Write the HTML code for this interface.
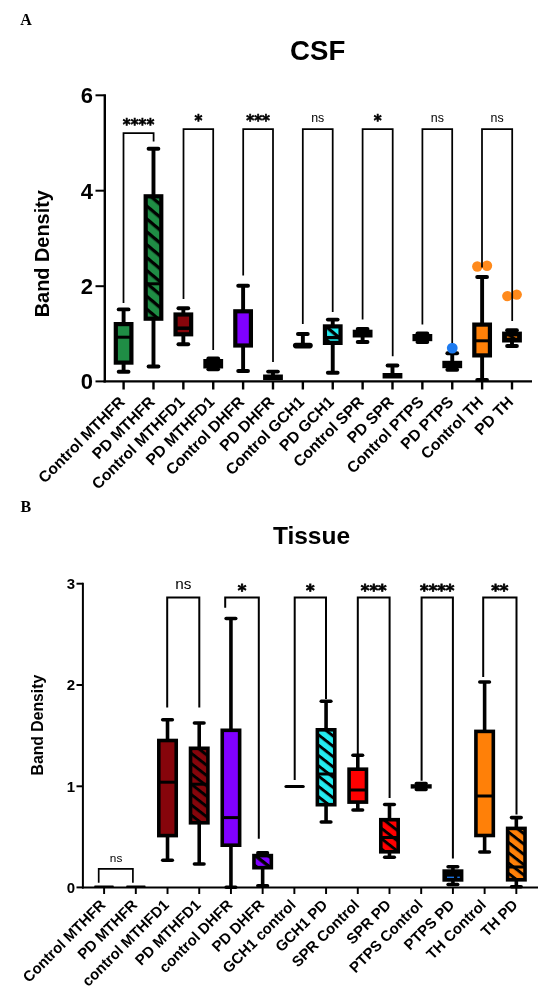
<!DOCTYPE html>
<html lang="en"><head><meta charset="utf-8"><title>Band Density - CSF and Tissue</title>
<style>html,body{margin:0;padding:0;background:#fff}svg{display:block}</style></head><body>
<svg width="550" height="1002" viewBox="0 0 550 1002">
<rect width="550" height="1002" fill="#fff"/>
<text x="20.3" y="24.7" font-family='"Liberation Serif", "Times New Roman", serif' font-size="16" font-weight="bold" text-anchor="start" >A</text>
<text x="317.7" y="60.3" font-family='"Liberation Sans", Arial, Helvetica, sans-serif' font-size="27.6" font-weight="bold" text-anchor="middle" >CSF</text>
<line x1="104.8" y1="94.3" x2="104.8" y2="382.4" stroke="#000" stroke-width="2.4"/>
<line x1="103.6" y1="381.4" x2="532" y2="381.4" stroke="#000" stroke-width="2.4"/>
<line x1="95.5" y1="95.3" x2="104.5" y2="95.3" stroke="#000" stroke-width="2.0"/>
<text x="93.1" y="103.1" font-family='"Liberation Sans", Arial, Helvetica, sans-serif' font-size="22" font-weight="bold" text-anchor="end" >6</text>
<line x1="95.5" y1="190.7" x2="104.5" y2="190.7" stroke="#000" stroke-width="2.0"/>
<text x="93.1" y="198.5" font-family='"Liberation Sans", Arial, Helvetica, sans-serif' font-size="22" font-weight="bold" text-anchor="end" >4</text>
<line x1="95.5" y1="286.2" x2="104.5" y2="286.2" stroke="#000" stroke-width="2.0"/>
<text x="93.1" y="294" font-family='"Liberation Sans", Arial, Helvetica, sans-serif' font-size="22" font-weight="bold" text-anchor="end" >2</text>
<line x1="95.5" y1="381.4" x2="104.5" y2="381.4" stroke="#000" stroke-width="2.0"/>
<text x="93.1" y="389.2" font-family='"Liberation Sans", Arial, Helvetica, sans-serif' font-size="22" font-weight="bold" text-anchor="end" >0</text>
<text transform="translate(48.5,253.7) rotate(-90)" font-family='"Liberation Sans", Arial, Helvetica, sans-serif' font-size="19.9" font-weight="bold" text-anchor="middle">Band Density</text>
<line x1="123.6" y1="381.4" x2="123.6" y2="389.5" stroke="#000" stroke-width="2.4"/>
<line x1="153.48" y1="381.4" x2="153.48" y2="389.5" stroke="#000" stroke-width="2.4"/>
<line x1="183.35" y1="381.4" x2="183.35" y2="389.5" stroke="#000" stroke-width="2.4"/>
<line x1="213.23" y1="381.4" x2="213.23" y2="389.5" stroke="#000" stroke-width="2.4"/>
<line x1="243.11" y1="381.4" x2="243.11" y2="389.5" stroke="#000" stroke-width="2.4"/>
<line x1="272.99" y1="381.4" x2="272.99" y2="389.5" stroke="#000" stroke-width="2.4"/>
<line x1="302.86" y1="381.4" x2="302.86" y2="389.5" stroke="#000" stroke-width="2.4"/>
<line x1="332.74" y1="381.4" x2="332.74" y2="389.5" stroke="#000" stroke-width="2.4"/>
<line x1="362.62" y1="381.4" x2="362.62" y2="389.5" stroke="#000" stroke-width="2.4"/>
<line x1="392.49" y1="381.4" x2="392.49" y2="389.5" stroke="#000" stroke-width="2.4"/>
<line x1="422.37" y1="381.4" x2="422.37" y2="389.5" stroke="#000" stroke-width="2.4"/>
<line x1="452.25" y1="381.4" x2="452.25" y2="389.5" stroke="#000" stroke-width="2.4"/>
<line x1="482.12" y1="381.4" x2="482.12" y2="389.5" stroke="#000" stroke-width="2.4"/>
<line x1="512" y1="381.4" x2="512" y2="389.5" stroke="#000" stroke-width="2.4"/>
<text transform="translate(125.8,402.9) rotate(-45)" font-family='"Liberation Sans", Arial, Helvetica, sans-serif' font-size="15.65" font-weight="bold" text-anchor="end">Control MTHFR</text>
<text transform="translate(155.68,402.9) rotate(-45)" font-family='"Liberation Sans", Arial, Helvetica, sans-serif' font-size="15.65" font-weight="bold" text-anchor="end">PD MTHFR</text>
<text transform="translate(185.55,402.9) rotate(-45)" font-family='"Liberation Sans", Arial, Helvetica, sans-serif' font-size="15.65" font-weight="bold" text-anchor="end">Control MTHFD1</text>
<text transform="translate(215.43,402.9) rotate(-45)" font-family='"Liberation Sans", Arial, Helvetica, sans-serif' font-size="15.65" font-weight="bold" text-anchor="end">PD MTHFD1</text>
<text transform="translate(245.31,402.9) rotate(-45)" font-family='"Liberation Sans", Arial, Helvetica, sans-serif' font-size="15.65" font-weight="bold" text-anchor="end">Control DHFR</text>
<text transform="translate(275.19,402.9) rotate(-45)" font-family='"Liberation Sans", Arial, Helvetica, sans-serif' font-size="15.65" font-weight="bold" text-anchor="end">PD DHFR</text>
<text transform="translate(305.06,402.9) rotate(-45)" font-family='"Liberation Sans", Arial, Helvetica, sans-serif' font-size="15.65" font-weight="bold" text-anchor="end">Control GCH1</text>
<text transform="translate(334.94,402.9) rotate(-45)" font-family='"Liberation Sans", Arial, Helvetica, sans-serif' font-size="15.65" font-weight="bold" text-anchor="end">PD GCH1</text>
<text transform="translate(364.82,402.9) rotate(-45)" font-family='"Liberation Sans", Arial, Helvetica, sans-serif' font-size="15.65" font-weight="bold" text-anchor="end">Control SPR</text>
<text transform="translate(394.69,402.9) rotate(-45)" font-family='"Liberation Sans", Arial, Helvetica, sans-serif' font-size="15.65" font-weight="bold" text-anchor="end">PD SPR</text>
<text transform="translate(424.57,402.9) rotate(-45)" font-family='"Liberation Sans", Arial, Helvetica, sans-serif' font-size="15.65" font-weight="bold" text-anchor="end">Control PTPS</text>
<text transform="translate(454.45,402.9) rotate(-45)" font-family='"Liberation Sans", Arial, Helvetica, sans-serif' font-size="15.65" font-weight="bold" text-anchor="end">PD PTPS</text>
<text transform="translate(484.32,402.9) rotate(-45)" font-family='"Liberation Sans", Arial, Helvetica, sans-serif' font-size="15.65" font-weight="bold" text-anchor="end">Control TH</text>
<text transform="translate(514.2,402.9) rotate(-45)" font-family='"Liberation Sans", Arial, Helvetica, sans-serif' font-size="15.65" font-weight="bold" text-anchor="end">PD TH</text>
<line x1="123.6" y1="309.4" x2="123.6" y2="323" stroke="#000" stroke-width="3.9"/>
<line x1="118.7" y1="309.4" x2="128.5" y2="309.4" stroke="#000" stroke-width="3.9" stroke-linecap="round"/>
<line x1="123.6" y1="363.7" x2="123.6" y2="371.8" stroke="#000" stroke-width="3.9"/>
<line x1="118.7" y1="371.8" x2="128.5" y2="371.8" stroke="#000" stroke-width="3.9" stroke-linecap="round"/>
<rect x="115.8" y="324.1" width="15.6" height="38.5" fill="#1f8d45" stroke="#000" stroke-width="4.2" stroke-linejoin="miter"/>
<line x1="115.8" y1="337.2" x2="131.4" y2="337.2" stroke="#000" stroke-width="3"/>
<line x1="153.48" y1="148.7" x2="153.48" y2="195.2" stroke="#000" stroke-width="3.9"/>
<line x1="148.58" y1="148.7" x2="158.38" y2="148.7" stroke="#000" stroke-width="3.9" stroke-linecap="round"/>
<line x1="153.48" y1="319.8" x2="153.48" y2="366.5" stroke="#000" stroke-width="3.9"/>
<line x1="148.58" y1="366.5" x2="158.38" y2="366.5" stroke="#000" stroke-width="3.9" stroke-linecap="round"/>
<defs><pattern id="h1" patternUnits="userSpaceOnUse" width="9.88" height="9.88" patternTransform="translate(0,3.36) rotate(40)"><rect x="0" y="0" width="9.88" height="9.88" fill="#1f8d45"/><rect x="0" y="0" width="9.88" height="3.3" fill="#000"/></pattern></defs>
<rect x="145.68" y="196.3" width="15.6" height="122.4" fill="url(#h1)" stroke="#000" stroke-width="4.2" stroke-linejoin="miter"/>
<line x1="145.68" y1="283.8" x2="161.28" y2="283.8" stroke="#000" stroke-width="3"/>
<line x1="183.35" y1="308.2" x2="183.35" y2="313.4" stroke="#000" stroke-width="3.9"/>
<line x1="178.45" y1="308.2" x2="188.25" y2="308.2" stroke="#000" stroke-width="3.9" stroke-linecap="round"/>
<line x1="183.35" y1="335.4" x2="183.35" y2="344.2" stroke="#000" stroke-width="3.9"/>
<line x1="178.45" y1="344.2" x2="188.25" y2="344.2" stroke="#000" stroke-width="3.9" stroke-linecap="round"/>
<rect x="175.55" y="314.5" width="15.6" height="19.8" fill="#86050b" stroke="#000" stroke-width="4.2" stroke-linejoin="miter"/>
<line x1="175.55" y1="328.2" x2="191.15" y2="328.2" stroke="#000" stroke-width="3.5"/>
<line x1="213.23" y1="358.5" x2="213.23" y2="360" stroke="#000" stroke-width="3.9"/>
<line x1="208.33" y1="358.5" x2="218.13" y2="358.5" stroke="#000" stroke-width="3.9" stroke-linecap="round"/>
<line x1="213.23" y1="367.5" x2="213.23" y2="369.2" stroke="#000" stroke-width="3.9"/>
<line x1="208.33" y1="369.2" x2="218.13" y2="369.2" stroke="#000" stroke-width="3.9" stroke-linecap="round"/>
<rect x="205.43" y="361.1" width="15.6" height="5.3" fill="#000" stroke="#000" stroke-width="4.2" stroke-linejoin="miter"/>
<line x1="243.11" y1="285.8" x2="243.11" y2="310.2" stroke="#000" stroke-width="3.9"/>
<line x1="238.21" y1="285.8" x2="248.01" y2="285.8" stroke="#000" stroke-width="3.9" stroke-linecap="round"/>
<line x1="243.11" y1="346.6" x2="243.11" y2="371" stroke="#000" stroke-width="3.9"/>
<line x1="238.21" y1="371" x2="248.01" y2="371" stroke="#000" stroke-width="3.9" stroke-linecap="round"/>
<rect x="235.31" y="311.3" width="15.6" height="34.2" fill="#8000ff" stroke="#000" stroke-width="4.2" stroke-linejoin="miter"/>
<line x1="272.99" y1="371.6" x2="272.99" y2="375.5" stroke="#000" stroke-width="3.9"/>
<line x1="268.09" y1="371.6" x2="277.88" y2="371.6" stroke="#000" stroke-width="3.9" stroke-linecap="round"/>
<rect x="265.19" y="376.6" width="15.6" height="1.3" fill="#000" stroke="#000" stroke-width="4.2" stroke-linejoin="miter"/>
<line x1="302.86" y1="334" x2="302.86" y2="346" stroke="#000" stroke-width="3.9"/>
<line x1="297.96" y1="334" x2="307.76" y2="334" stroke="#000" stroke-width="3.9" stroke-linecap="round"/>
<rect x="304.96" y="345" width="-4.2" height="0.01" fill="#000" stroke="#000" stroke-width="4.2" stroke-linejoin="miter"/>
<line x1="295.76" y1="345.6" x2="309.96" y2="345.6" stroke="#000" stroke-width="5.6" stroke-linecap="round"/>
<line x1="332.74" y1="319.6" x2="332.74" y2="325.3" stroke="#000" stroke-width="3.9"/>
<line x1="327.84" y1="319.6" x2="337.64" y2="319.6" stroke="#000" stroke-width="3.9" stroke-linecap="round"/>
<line x1="332.74" y1="344" x2="332.74" y2="372.7" stroke="#000" stroke-width="3.9"/>
<line x1="327.84" y1="372.7" x2="337.64" y2="372.7" stroke="#000" stroke-width="3.9" stroke-linecap="round"/>
<defs><pattern id="h2" patternUnits="userSpaceOnUse" width="9.88" height="9.88" patternTransform="translate(0,12.21) rotate(40)"><rect x="0" y="0" width="9.88" height="9.88" fill="#24ecf0"/><rect x="0" y="0" width="9.88" height="3.3" fill="#000"/></pattern></defs>
<rect x="324.94" y="326.4" width="15.6" height="16.5" fill="url(#h2)" stroke="#000" stroke-width="4.2" stroke-linejoin="miter"/>
<line x1="324.94" y1="337.6" x2="340.54" y2="337.6" stroke="#000" stroke-width="3.3"/>
<line x1="362.62" y1="328.9" x2="362.62" y2="330.7" stroke="#000" stroke-width="3.9"/>
<line x1="357.72" y1="328.9" x2="367.52" y2="328.9" stroke="#000" stroke-width="3.9" stroke-linecap="round"/>
<line x1="362.62" y1="336.5" x2="362.62" y2="342" stroke="#000" stroke-width="3.9"/>
<line x1="357.72" y1="342" x2="367.52" y2="342" stroke="#000" stroke-width="3.9" stroke-linecap="round"/>
<rect x="354.82" y="331.8" width="15.6" height="3.6" fill="#000" stroke="#000" stroke-width="4.2" stroke-linejoin="miter"/>
<line x1="392.49" y1="365.5" x2="392.49" y2="374" stroke="#000" stroke-width="3.9"/>
<line x1="387.59" y1="365.5" x2="397.39" y2="365.5" stroke="#000" stroke-width="3.9" stroke-linecap="round"/>
<rect x="384.69" y="375.1" width="15.6" height="1.3" fill="#000" stroke="#000" stroke-width="4.2" stroke-linejoin="miter"/>
<line x1="422.37" y1="333.4" x2="422.37" y2="335" stroke="#000" stroke-width="3.9"/>
<line x1="417.47" y1="333.4" x2="427.27" y2="333.4" stroke="#000" stroke-width="3.9" stroke-linecap="round"/>
<line x1="422.37" y1="340.2" x2="422.37" y2="342.1" stroke="#000" stroke-width="3.9"/>
<line x1="417.47" y1="342.1" x2="427.27" y2="342.1" stroke="#000" stroke-width="3.9" stroke-linecap="round"/>
<rect x="414.57" y="336.1" width="15.6" height="3" fill="#000" stroke="#000" stroke-width="4.2" stroke-linejoin="miter"/>
<line x1="452.25" y1="353.3" x2="452.25" y2="361.8" stroke="#000" stroke-width="3.9"/>
<line x1="447.35" y1="353.3" x2="457.15" y2="353.3" stroke="#000" stroke-width="3.9" stroke-linecap="round"/>
<line x1="452.25" y1="367.2" x2="452.25" y2="369.7" stroke="#000" stroke-width="3.9"/>
<line x1="447.35" y1="369.7" x2="457.15" y2="369.7" stroke="#000" stroke-width="3.9" stroke-linecap="round"/>
<rect x="444.45" y="362.9" width="15.6" height="3.2" fill="#000" stroke="#000" stroke-width="4.2" stroke-linejoin="miter"/>
<circle cx="452.25" cy="348.1" r="5.4" fill="#1e7bf0"/>
<line x1="482.12" y1="277" x2="482.12" y2="323.5" stroke="#000" stroke-width="3.9"/>
<line x1="477.22" y1="277" x2="487.02" y2="277" stroke="#000" stroke-width="3.9" stroke-linecap="round"/>
<line x1="482.12" y1="356.5" x2="482.12" y2="380" stroke="#000" stroke-width="3.9"/>
<line x1="477.22" y1="380" x2="487.02" y2="380" stroke="#000" stroke-width="3.9" stroke-linecap="round"/>
<rect x="474.32" y="324.6" width="15.6" height="30.8" fill="#ff8008" stroke="#000" stroke-width="4.2" stroke-linejoin="miter"/>
<line x1="474.32" y1="340.8" x2="489.92" y2="340.8" stroke="#000" stroke-width="3"/>
<circle cx="477.3" cy="266.5" r="5.2" fill="#ff8a1c"/><circle cx="487" cy="265.7" r="5.2" fill="#ff8a1c"/>
<line x1="512" y1="330.2" x2="512" y2="332.6" stroke="#000" stroke-width="3.9"/>
<line x1="507.1" y1="330.2" x2="516.9" y2="330.2" stroke="#000" stroke-width="3.9" stroke-linecap="round"/>
<line x1="512" y1="341.5" x2="512" y2="346" stroke="#000" stroke-width="3.9"/>
<line x1="507.1" y1="346" x2="516.9" y2="346" stroke="#000" stroke-width="3.9" stroke-linecap="round"/>
<defs><pattern id="h3" patternUnits="userSpaceOnUse" width="9.88" height="9.88" patternTransform="translate(0,8.51) rotate(40)"><rect x="0" y="0" width="9.88" height="9.88" fill="#ff8008"/><rect x="0" y="0" width="9.88" height="3.3" fill="#000"/></pattern></defs>
<rect x="504.5" y="334" width="15" height="6.1" fill="url(#h3)" stroke="#000" stroke-width="4.8" stroke-linejoin="miter"/>
<circle cx="507.3" cy="296.1" r="5.2" fill="#ff8a1c"/><circle cx="516.7" cy="294.6" r="5.2" fill="#ff8a1c"/>
<polyline points="123.5,303 123.5,133.2 153.6,133.2 153.6,141.5" fill="none" stroke="#000" stroke-width="1.75"/>
<text x="138.55" y="130.3" font-family='"DejaVu Sans", "Liberation Sans", sans-serif' font-size="15" font-weight="bold" text-anchor="middle" stroke="#000" stroke-width="0.6">****</text>
<polyline points="183.5,299 183.5,129.1 213.2,129.1 213.2,350" fill="none" stroke="#000" stroke-width="1.75"/>
<text x="198.35" y="126.2" font-family='"DejaVu Sans", "Liberation Sans", sans-serif' font-size="15" font-weight="bold" text-anchor="middle" stroke="#000" stroke-width="0.6">*</text>
<polyline points="243.2,275.6 243.2,129.1 273,129.1 273,362" fill="none" stroke="#000" stroke-width="1.75"/>
<text x="258.1" y="126.2" font-family='"DejaVu Sans", "Liberation Sans", sans-serif' font-size="15" font-weight="bold" text-anchor="middle" stroke="#000" stroke-width="0.6">***</text>
<polyline points="302.8,324 302.8,129.1 332.7,129.1 332.7,312" fill="none" stroke="#000" stroke-width="1.75"/>
<text x="317.75" y="121.8" font-family='"Liberation Sans", Arial, Helvetica, sans-serif' font-size="12.4" font-weight="normal" text-anchor="middle" >ns</text>
<polyline points="362.6,319.6 362.6,129.1 392.7,129.1 392.7,356.3" fill="none" stroke="#000" stroke-width="1.75"/>
<text x="377.65" y="126.2" font-family='"DejaVu Sans", "Liberation Sans", sans-serif' font-size="15" font-weight="bold" text-anchor="middle" stroke="#000" stroke-width="0.6">*</text>
<polyline points="422.4,324.5 422.4,129.1 452.2,129.1 452.2,343" fill="none" stroke="#000" stroke-width="1.75"/>
<text x="437.3" y="121.8" font-family='"Liberation Sans", Arial, Helvetica, sans-serif' font-size="12.4" font-weight="normal" text-anchor="middle" >ns</text>
<polyline points="482,267.4 482,129.1 512.2,129.1 512.2,321" fill="none" stroke="#000" stroke-width="1.75"/>
<text x="497.1" y="121.8" font-family='"Liberation Sans", Arial, Helvetica, sans-serif' font-size="12.4" font-weight="normal" text-anchor="middle" >ns</text>
<text x="20.5" y="511.8" font-family='"Liberation Serif", "Times New Roman", serif' font-size="16" font-weight="bold" text-anchor="start" >B</text>
<text x="311.5" y="544.3" font-family='"Liberation Sans", Arial, Helvetica, sans-serif' font-size="24.5" font-weight="bold" text-anchor="middle" >Tissue</text>
<line x1="82.9" y1="582.8" x2="82.9" y2="888.375" stroke="#000" stroke-width="2"/>
<line x1="81.92500000000001" y1="887.4" x2="538" y2="887.4" stroke="#000" stroke-width="1.95"/>
<line x1="76.5" y1="583.7" x2="82.9" y2="583.7" stroke="#000" stroke-width="1.95"/>
<text x="75.2" y="588.9" font-family='"Liberation Sans", Arial, Helvetica, sans-serif' font-size="15" font-weight="bold" text-anchor="end" >3</text>
<line x1="76.5" y1="685" x2="82.9" y2="685" stroke="#000" stroke-width="1.95"/>
<text x="75.2" y="690.2" font-family='"Liberation Sans", Arial, Helvetica, sans-serif' font-size="15" font-weight="bold" text-anchor="end" >2</text>
<line x1="76.5" y1="786.3" x2="82.9" y2="786.3" stroke="#000" stroke-width="1.95"/>
<text x="75.2" y="791.5" font-family='"Liberation Sans", Arial, Helvetica, sans-serif' font-size="15" font-weight="bold" text-anchor="end" >1</text>
<line x1="76.5" y1="887.4" x2="82.9" y2="887.4" stroke="#000" stroke-width="1.95"/>
<text x="75.2" y="892.6" font-family='"Liberation Sans", Arial, Helvetica, sans-serif' font-size="15" font-weight="bold" text-anchor="end" >0</text>
<text transform="translate(42.6,725.1) rotate(-90)" font-family='"Liberation Sans", Arial, Helvetica, sans-serif' font-size="15.75" font-weight="bold" text-anchor="middle">Band Density</text>
<line x1="104.1" y1="887.4" x2="104.1" y2="894" stroke="#000" stroke-width="1.95"/>
<line x1="135.81" y1="887.4" x2="135.81" y2="894" stroke="#000" stroke-width="1.95"/>
<line x1="167.52" y1="887.4" x2="167.52" y2="894" stroke="#000" stroke-width="1.95"/>
<line x1="199.23" y1="887.4" x2="199.23" y2="894" stroke="#000" stroke-width="1.95"/>
<line x1="230.94" y1="887.4" x2="230.94" y2="894" stroke="#000" stroke-width="1.95"/>
<line x1="262.65" y1="887.4" x2="262.65" y2="894" stroke="#000" stroke-width="1.95"/>
<line x1="294.36" y1="887.4" x2="294.36" y2="894" stroke="#000" stroke-width="1.95"/>
<line x1="326.07" y1="887.4" x2="326.07" y2="894" stroke="#000" stroke-width="1.95"/>
<line x1="357.78" y1="887.4" x2="357.78" y2="894" stroke="#000" stroke-width="1.95"/>
<line x1="389.49" y1="887.4" x2="389.49" y2="894" stroke="#000" stroke-width="1.95"/>
<line x1="421.2" y1="887.4" x2="421.2" y2="894" stroke="#000" stroke-width="1.95"/>
<line x1="452.91" y1="887.4" x2="452.91" y2="894" stroke="#000" stroke-width="1.95"/>
<line x1="484.62" y1="887.4" x2="484.62" y2="894" stroke="#000" stroke-width="1.95"/>
<line x1="516.33" y1="887.4" x2="516.33" y2="894" stroke="#000" stroke-width="1.95"/>
<text transform="translate(106.5,905.8) rotate(-45)" font-family='"Liberation Sans", Arial, Helvetica, sans-serif' font-size="14.95" font-weight="bold" text-anchor="end">Control MTHFR</text>
<text transform="translate(138.21,905.8) rotate(-45)" font-family='"Liberation Sans", Arial, Helvetica, sans-serif' font-size="14.95" font-weight="bold" text-anchor="end">PD MTHFR</text>
<text transform="translate(169.92,905.8) rotate(-45)" font-family='"Liberation Sans", Arial, Helvetica, sans-serif' font-size="14.95" font-weight="bold" text-anchor="end">control MTHFD1</text>
<text transform="translate(201.63,905.8) rotate(-45)" font-family='"Liberation Sans", Arial, Helvetica, sans-serif' font-size="14.95" font-weight="bold" text-anchor="end">PD MTHFD1</text>
<text transform="translate(233.34,905.8) rotate(-45)" font-family='"Liberation Sans", Arial, Helvetica, sans-serif' font-size="14.95" font-weight="bold" text-anchor="end">control DHFR</text>
<text transform="translate(265.05,905.8) rotate(-45)" font-family='"Liberation Sans", Arial, Helvetica, sans-serif' font-size="14.95" font-weight="bold" text-anchor="end">PD DHFR</text>
<text transform="translate(296.76,905.8) rotate(-45)" font-family='"Liberation Sans", Arial, Helvetica, sans-serif' font-size="14.95" font-weight="bold" text-anchor="end">GCH1 control</text>
<text transform="translate(328.47,905.8) rotate(-45)" font-family='"Liberation Sans", Arial, Helvetica, sans-serif' font-size="14.95" font-weight="bold" text-anchor="end">GCH1 PD</text>
<text transform="translate(360.18,905.8) rotate(-45)" font-family='"Liberation Sans", Arial, Helvetica, sans-serif' font-size="14.95" font-weight="bold" text-anchor="end">SPR Control</text>
<text transform="translate(391.89,905.8) rotate(-45)" font-family='"Liberation Sans", Arial, Helvetica, sans-serif' font-size="14.95" font-weight="bold" text-anchor="end">SPR PD</text>
<text transform="translate(423.6,905.8) rotate(-45)" font-family='"Liberation Sans", Arial, Helvetica, sans-serif' font-size="14.95" font-weight="bold" text-anchor="end">PTPS Control</text>
<text transform="translate(455.31,905.8) rotate(-45)" font-family='"Liberation Sans", Arial, Helvetica, sans-serif' font-size="14.95" font-weight="bold" text-anchor="end">PTPS PD</text>
<text transform="translate(487.02,905.8) rotate(-45)" font-family='"Liberation Sans", Arial, Helvetica, sans-serif' font-size="14.95" font-weight="bold" text-anchor="end">TH Control</text>
<text transform="translate(518.73,905.8) rotate(-45)" font-family='"Liberation Sans", Arial, Helvetica, sans-serif' font-size="14.95" font-weight="bold" text-anchor="end">TH PD</text>
<polyline points="98.7,882.7 98.7,868.9 132.9,868.9 132.9,882.7" fill="none" stroke="#000" stroke-width="1.7"/>
<text x="116.1" y="862.1" font-family='"Liberation Sans", Arial, Helvetica, sans-serif' font-size="11.8" font-weight="normal" text-anchor="middle" >ns</text>
<polyline points="167.2,707.6 167.2,597.4 199.3,597.4 199.3,707.6" fill="none" stroke="#000" stroke-width="2"/>
<text x="183.25" y="589.2" font-family='"Liberation Sans", Arial, Helvetica, sans-serif' font-size="15.3" font-weight="normal" text-anchor="middle" >ns</text>
<polyline points="225.2,607.8 225.2,597.4 258.8,597.4 258.8,838.7" fill="none" stroke="#000" stroke-width="2"/>
<text x="242" y="595.8" font-family='"DejaVu Sans", "Liberation Sans", sans-serif' font-size="16.4" font-weight="bold" text-anchor="middle" stroke="#000" stroke-width="0.8">*</text>
<polyline points="294.7,780 294.7,597.4 326,597.4 326,699" fill="none" stroke="#000" stroke-width="2"/>
<text x="310.35" y="595.8" font-family='"DejaVu Sans", "Liberation Sans", sans-serif' font-size="16.4" font-weight="bold" text-anchor="middle" stroke="#000" stroke-width="0.8">*</text>
<polyline points="357.8,754 357.8,597.4 389.6,597.4 389.6,798" fill="none" stroke="#000" stroke-width="2"/>
<text x="373.7" y="595.8" font-family='"DejaVu Sans", "Liberation Sans", sans-serif' font-size="16.4" font-weight="bold" text-anchor="middle" stroke="#000" stroke-width="0.8">***</text>
<polyline points="421.6,780.8 421.6,597.4 452.9,597.4 452.9,858.5" fill="none" stroke="#000" stroke-width="2"/>
<text x="437.25" y="595.8" font-family='"DejaVu Sans", "Liberation Sans", sans-serif' font-size="16.4" font-weight="bold" text-anchor="middle" stroke="#000" stroke-width="0.8">****</text>
<polyline points="483.2,677 483.2,597.4 516.5,597.4 516.5,814.5" fill="none" stroke="#000" stroke-width="2"/>
<text x="499.85" y="595.8" font-family='"DejaVu Sans", "Liberation Sans", sans-serif' font-size="16.4" font-weight="bold" text-anchor="middle" stroke="#000" stroke-width="0.8">**</text>
<line x1="95" y1="886.3" x2="113" y2="886.3" stroke="#000" stroke-width="1.7" stroke-linecap="round"/>
<line x1="127" y1="886.3" x2="144.8" y2="886.3" stroke="#000" stroke-width="1.7" stroke-linecap="round"/>
<line x1="167.52" y1="719.8" x2="167.52" y2="739.7" stroke="#000" stroke-width="3.6"/>
<line x1="162.72" y1="719.8" x2="172.32" y2="719.8" stroke="#000" stroke-width="3.6" stroke-linecap="round"/>
<line x1="167.52" y1="836.4" x2="167.52" y2="860.3" stroke="#000" stroke-width="3.6"/>
<line x1="162.72" y1="860.3" x2="172.32" y2="860.3" stroke="#000" stroke-width="3.6" stroke-linecap="round"/>
<rect x="158.82" y="740.5" width="17.4" height="95.1" fill="#86050b" stroke="#000" stroke-width="3.6" stroke-linejoin="miter"/>
<line x1="158.82" y1="782.2" x2="176.22" y2="782.2" stroke="#000" stroke-width="3"/>
<line x1="199.23" y1="723" x2="199.23" y2="747.5" stroke="#000" stroke-width="3.6"/>
<line x1="194.43" y1="723" x2="204.03" y2="723" stroke="#000" stroke-width="3.6" stroke-linecap="round"/>
<line x1="199.23" y1="823.6" x2="199.23" y2="864" stroke="#000" stroke-width="3.6"/>
<line x1="194.43" y1="864" x2="204.03" y2="864" stroke="#000" stroke-width="3.6" stroke-linecap="round"/>
<defs><pattern id="h4" patternUnits="userSpaceOnUse" width="8.12" height="8.12" patternTransform="translate(0,4.34) rotate(38)"><rect x="0" y="0" width="8.12" height="8.12" fill="#86050b"/><rect x="0" y="0" width="8.12" height="2.9" fill="#000"/></pattern></defs>
<rect x="190.53" y="748.3" width="17.4" height="74.5" fill="url(#h4)" stroke="#000" stroke-width="3.6" stroke-linejoin="miter"/>
<line x1="190.53" y1="784.2" x2="207.93" y2="784.2" stroke="#000" stroke-width="3"/>
<line x1="230.94" y1="618.5" x2="230.94" y2="729.5" stroke="#000" stroke-width="3.6"/>
<line x1="226.14" y1="618.5" x2="235.74" y2="618.5" stroke="#000" stroke-width="3.6" stroke-linecap="round"/>
<line x1="230.94" y1="846" x2="230.94" y2="887.3" stroke="#000" stroke-width="3.6"/>
<line x1="226.14" y1="887.3" x2="235.74" y2="887.3" stroke="#000" stroke-width="3.6" stroke-linecap="round"/>
<rect x="222.24" y="730.3" width="17.4" height="114.9" fill="#8000ff" stroke="#000" stroke-width="3.6" stroke-linejoin="miter"/>
<line x1="222.24" y1="817.6" x2="239.64" y2="817.6" stroke="#000" stroke-width="3"/>
<line x1="262.65" y1="852.9" x2="262.65" y2="854.8" stroke="#000" stroke-width="3.6"/>
<line x1="257.85" y1="852.9" x2="267.45" y2="852.9" stroke="#000" stroke-width="3.6" stroke-linecap="round"/>
<line x1="262.65" y1="868.5" x2="262.65" y2="885.7" stroke="#000" stroke-width="3.6"/>
<line x1="257.85" y1="885.7" x2="267.45" y2="885.7" stroke="#000" stroke-width="3.6" stroke-linecap="round"/>
<defs><pattern id="h5" patternUnits="userSpaceOnUse" width="8.12" height="8.12" patternTransform="translate(0,4.95) rotate(38)"><rect x="0" y="0" width="8.12" height="8.12" fill="#8000ff"/><rect x="0" y="0" width="8.12" height="3.3" fill="#000"/></pattern></defs>
<rect x="253.95" y="855.6" width="17.4" height="12.1" fill="url(#h5)" stroke="#000" stroke-width="3.6" stroke-linejoin="miter"/>
<line x1="286" y1="786.5" x2="303.2" y2="786.5" stroke="#000" stroke-width="3.2" stroke-linecap="round"/>
<line x1="326.07" y1="701.2" x2="326.07" y2="729" stroke="#000" stroke-width="3.6"/>
<line x1="321.27" y1="701.2" x2="330.87" y2="701.2" stroke="#000" stroke-width="3.6" stroke-linecap="round"/>
<line x1="326.07" y1="805.5" x2="326.07" y2="822" stroke="#000" stroke-width="3.6"/>
<line x1="321.27" y1="822" x2="330.87" y2="822" stroke="#000" stroke-width="3.6" stroke-linecap="round"/>
<defs><pattern id="h6" patternUnits="userSpaceOnUse" width="8.12" height="8.12" patternTransform="translate(0,10.2) rotate(38)"><rect x="0" y="0" width="8.12" height="8.12" fill="#24ecf0"/><rect x="0" y="0" width="8.12" height="2.9" fill="#000"/></pattern></defs>
<rect x="317.37" y="729.8" width="17.4" height="74.9" fill="url(#h6)" stroke="#000" stroke-width="3.6" stroke-linejoin="miter"/>
<line x1="317.37" y1="774" x2="334.77" y2="774" stroke="#000" stroke-width="3"/>
<line x1="357.78" y1="755.2" x2="357.78" y2="768.4" stroke="#000" stroke-width="3.6"/>
<line x1="352.98" y1="755.2" x2="362.58" y2="755.2" stroke="#000" stroke-width="3.6" stroke-linecap="round"/>
<line x1="357.78" y1="802.9" x2="357.78" y2="810" stroke="#000" stroke-width="3.6"/>
<line x1="352.98" y1="810" x2="362.58" y2="810" stroke="#000" stroke-width="3.6" stroke-linecap="round"/>
<rect x="349.08" y="769.2" width="17.4" height="32.9" fill="#ff0000" stroke="#000" stroke-width="3.6" stroke-linejoin="miter"/>
<line x1="349.08" y1="790" x2="366.48" y2="790" stroke="#000" stroke-width="3"/>
<line x1="389.49" y1="804.5" x2="389.49" y2="818.9" stroke="#000" stroke-width="3.6"/>
<line x1="384.69" y1="804.5" x2="394.29" y2="804.5" stroke="#000" stroke-width="3.6" stroke-linecap="round"/>
<line x1="389.49" y1="852.6" x2="389.49" y2="857.2" stroke="#000" stroke-width="3.6"/>
<line x1="384.69" y1="857.2" x2="394.29" y2="857.2" stroke="#000" stroke-width="3.6" stroke-linecap="round"/>
<defs><pattern id="h7" patternUnits="userSpaceOnUse" width="8.12" height="8.12" patternTransform="translate(0,2.97) rotate(38)"><rect x="0" y="0" width="8.12" height="8.12" fill="#ff0000"/><rect x="0" y="0" width="8.12" height="2.9" fill="#000"/></pattern></defs>
<rect x="380.79" y="819.7" width="17.4" height="32.1" fill="url(#h7)" stroke="#000" stroke-width="3.6" stroke-linejoin="miter"/>
<line x1="380.79" y1="837.5" x2="398.19" y2="837.5" stroke="#000" stroke-width="3"/>
<line x1="421.2" y1="783.6" x2="421.2" y2="785.2" stroke="#000" stroke-width="3.6"/>
<line x1="416.4" y1="783.6" x2="426" y2="783.6" stroke="#000" stroke-width="3.6" stroke-linecap="round"/>
<line x1="421.2" y1="787.6" x2="421.2" y2="789.4" stroke="#000" stroke-width="3.6"/>
<line x1="416.4" y1="789.4" x2="426" y2="789.4" stroke="#000" stroke-width="3.6" stroke-linecap="round"/>
<rect x="412.5" y="786" width="17.4" height="0.8" fill="#000" stroke="#000" stroke-width="3.6" stroke-linejoin="miter"/>
<line x1="452.91" y1="866.7" x2="452.91" y2="870.3" stroke="#000" stroke-width="3.6"/>
<line x1="448.11" y1="866.7" x2="457.71" y2="866.7" stroke="#000" stroke-width="3.6" stroke-linecap="round"/>
<line x1="452.91" y1="880.7" x2="452.91" y2="884.5" stroke="#000" stroke-width="3.6"/>
<line x1="448.11" y1="884.5" x2="457.71" y2="884.5" stroke="#000" stroke-width="3.6" stroke-linecap="round"/>
<rect x="444.21" y="871.1" width="17.4" height="8.8" fill="#000" stroke="#000" stroke-width="3.6" stroke-linejoin="miter"/>
<line x1="447" y1="877.3" x2="454" y2="877.3" stroke="#1e7bf0" stroke-width="1.3"/><line x1="457.3" y1="877.3" x2="459.8" y2="877.3" stroke="#1e7bf0" stroke-width="1.3"/>
<line x1="484.62" y1="682" x2="484.62" y2="730.6" stroke="#000" stroke-width="3.6"/>
<line x1="479.82" y1="682" x2="489.42" y2="682" stroke="#000" stroke-width="3.6" stroke-linecap="round"/>
<line x1="484.62" y1="836.3" x2="484.62" y2="852" stroke="#000" stroke-width="3.6"/>
<line x1="479.82" y1="852" x2="489.42" y2="852" stroke="#000" stroke-width="3.6" stroke-linecap="round"/>
<rect x="475.92" y="731.4" width="17.4" height="104.1" fill="#ff8008" stroke="#000" stroke-width="3.6" stroke-linejoin="miter"/>
<line x1="475.92" y1="796" x2="493.32" y2="796" stroke="#000" stroke-width="3"/>
<line x1="516.33" y1="817.6" x2="516.33" y2="827.6" stroke="#000" stroke-width="3.6"/>
<line x1="511.53" y1="817.6" x2="521.13" y2="817.6" stroke="#000" stroke-width="3.6" stroke-linecap="round"/>
<line x1="516.33" y1="880.6" x2="516.33" y2="886.8" stroke="#000" stroke-width="3.6"/>
<line x1="511.53" y1="886.8" x2="521.13" y2="886.8" stroke="#000" stroke-width="3.6" stroke-linecap="round"/>
<defs><pattern id="h8" patternUnits="userSpaceOnUse" width="8.12" height="8.12" patternTransform="translate(0,0.22) rotate(38)"><rect x="0" y="0" width="8.12" height="8.12" fill="#ff8008"/><rect x="0" y="0" width="8.12" height="2.9" fill="#000"/></pattern></defs>
<rect x="507.63" y="828.4" width="17.4" height="51.4" fill="url(#h8)" stroke="#000" stroke-width="3.6" stroke-linejoin="miter"/>
<line x1="507.63" y1="867" x2="525.03" y2="867" stroke="#000" stroke-width="3"/>
</svg></body></html>
